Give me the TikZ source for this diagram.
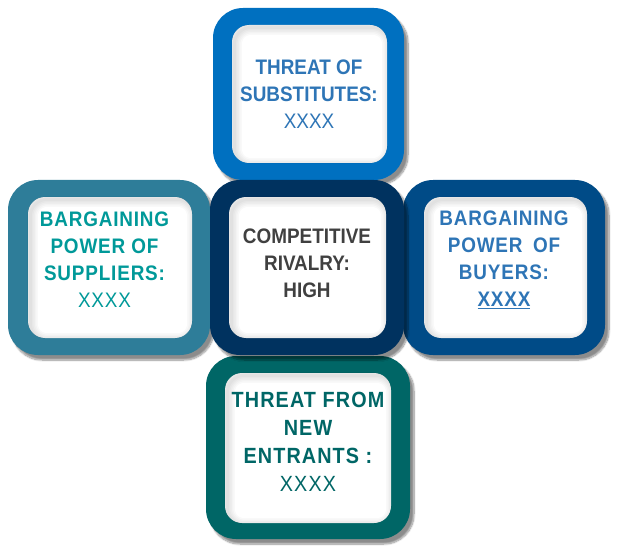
\documentclass[tikz,border=0pt]{standalone}
\usepackage{fontspec}
\newfontfamily\boxfont{Liberation Sans}[FakeStretch=0.9]
\newfontfamily\boxfontwide{Liberation Sans}[FakeStretch=0.9,LetterSpace=4]
\newfontfamily\boxfontwider{Liberation Sans}[FakeStretch=0.9,LetterSpace=5]
\usetikzlibrary{shadows.blur}
\definecolor{cTop}{HTML}{0070C0}
\definecolor{cLeft}{HTML}{2E7D99}
\definecolor{cCenter}{HTML}{00325F}
\definecolor{cRight}{HTML}{004B87}
\definecolor{cBottom}{HTML}{006666}
\definecolor{tBlue}{HTML}{2E75B6}
\definecolor{tTeal}{HTML}{009999}
\definecolor{tGray}{HTML}{404040}
\newcommand{\insetshade}[1]{%
  \begin{scope}
    \clip[rounded corners=17pt] (#1.south west) rectangle (#1.north east);
    \foreach \w in {3,6,9,12,15}
      \draw[black, opacity=0.025, line width=\w pt, rounded corners=17pt]
        ([shift={(2.5,2.5)}]#1.south west) rectangle ([shift={(2.5,2.5)}]#1.north east);
  \end{scope}}
\begin{document}
\begin{tikzpicture}[x=1pt,y=-1pt,
  outerbox/.style={rounded corners=30pt, fill=#1, inner sep=0pt, draw=none,
    blur shadow={shadow xshift=4pt,shadow yshift=-5pt,shadow blur steps=10,shadow opacity=45}},
  innerbox/.style={fill=white, rounded corners=17pt, inner sep=0pt, draw=none},
  label/.style={align=center, text=#1, inner sep=0pt,
    font=\boxfont\fontsize{21}{27}\selectfont\bfseries},
  widelabel/.style={align=center, text=#1, inner sep=0pt,
    font=\boxfontwide\fontsize{21}{27}\selectfont\bfseries},
  biglabel/.style={align=center, text=#1, inner sep=0pt,
    font=\boxfontwider\fontsize{22}{28}\selectfont\bfseries}]
\useasboundingbox (0,0) rectangle (624,559);
% top
\node[outerbox=cTop, minimum width=191pt, minimum height=172pt] (oTop) at (308.5,94) {};
\node[innerbox, minimum width=155pt, minimum height=138pt] (iTop) at (309.5,94) {};
\insetshade{iTop}
\node[label=tBlue] (tTop) at (309,94) {THREAT OF\\SUBSTITUTES:\\{\mdseries XXXX}};
% left
\node[outerbox=cLeft, minimum width=202pt, minimum height=175pt] (oLeft) at (109,267.5) {};
\node[innerbox, minimum width=164pt, minimum height=141pt] (iLeft) at (110,267.5) {};
\insetshade{iLeft}
\node[widelabel=tTeal] (tLeft) at (104.5,260) {BARGAINING\\POWER OF\\SUPPLIERS:\\{\mdseries XXXX}};
% right
\node[outerbox=cRight, minimum width=202pt, minimum height=175pt] (oRight) at (504,267.5) {};
\node[innerbox, minimum width=163pt, minimum height=141pt] (iRight) at (505.5,267.5) {};
\insetshade{iRight}
\node[widelabel=tBlue] (tRight) at (504,260) {BARGAINING\\POWER\enspace OF\\BUYERS:\\\underline{XXXX}};
% bottom
\node[outerbox=cBottom, minimum width=204pt, minimum height=183pt] (oBottom) at (308,447.5) {};
\node[innerbox, minimum width=166pt, minimum height=150pt] (iBottom) at (308,448) {};
\insetshade{iBottom}
\node[biglabel=cBottom] (tBottom) at (308,442) {THREAT FROM\\NEW\\ENTRANTS :\\{\mdseries XXXX}};
% center
\node[outerbox=cCenter, minimum width=194pt, minimum height=175pt] (oCenter) at (307,267.5) {};
\node[innerbox, minimum width=157pt, minimum height=141pt] (iCenter) at (307.5,267.5) {};
\insetshade{iCenter}
\node[label=tGray] (tCenter) at (307,263) {COMPETITIVE\\RIVALRY:\\HIGH};
\end{tikzpicture}
\end{document}
